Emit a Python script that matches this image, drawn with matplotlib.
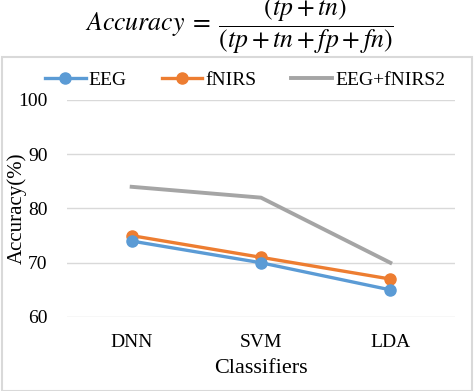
import matplotlib
matplotlib.use("Agg")
import matplotlib.pyplot as plt
from matplotlib.patches import Rectangle

categories = ["DNN", "SVM", "LDA"]
eeg = [74, 70, 65]
fnirs = [75, 71, 67]
combined = [84, 82, 70]
yticks = [60, 70, 80, 90, 100]

W, H = 474, 391
fig = plt.figure(figsize=(W/100, H/100), dpi=100)
plt.rcParams['font.family'] = ['Liberation Serif', 'DejaVu Serif']
plt.rcParams['mathtext.fontset'] = 'stix'

# chart border
fig.patches.append(Rectangle((2/W, 0), (W-4)/W, 1-57/H, transform=fig.transFigure,
                             fill=False, edgecolor='#d9d9d9', linewidth=1.5))

# equation
fig.text(239/W, 1-26/H,
         r'$\mathit{Accuracy}\;=\;\dfrac{(tp+tn)}{(tp+tn+fp+fn)}$',
         ha='center', va='center', fontsize=18.5)

ax = fig.add_axes([67/W, 1-317/H, (455-67)/W, (317-100)/H])
x = list(range(len(categories)))
ax.plot(x, combined, color='#A5A5A5', lw=2.8, label='EEG+fNIRS2', zorder=2)
ax.plot(x, fnirs, color='#ED7D31', lw=2.4, marker='o', ms=8, label='fNIRS', zorder=3)
ax.plot(x, eeg, color='#5B9BD5', lw=2.4, marker='o', ms=8, label='EEG', zorder=4)

ax.set_xlim(-0.5, 2.5)
ax.set_ylim(60, 100)
ax.set_yticks(yticks)
ax.set_xticks(x)
ax.set_xticklabels(categories)
ax.tick_params(length=0, labelsize=14)
ax.tick_params(axis='x', pad=12)
ax.tick_params(axis='y', pad=14)
ax.grid(axis='y', color='#d9d9d9', lw=1)
ax.set_axisbelow(True)
for s in ax.spines.values():
    s.set_visible(False)
ax.set_xlabel('Classifiers', fontsize=16, labelpad=6)
fig.text(17/W, 1-208/H, 'Accuracy(%)', rotation=90, ha='center', va='center', fontsize=15)

h, l = ax.get_legend_handles_labels()
order = [2, 1, 0]
fig.legend([h[i] for i in order], [l[i] for i in order], loc='center',
           bbox_to_anchor=(245/W, 1-80/H), ncol=3, frameon=False, fontsize=14,
           handlelength=2.1, handletextpad=0.15, columnspacing=1.8,
           borderaxespad=0, borderpad=0)

fig.savefig('out.png', dpi=100)
